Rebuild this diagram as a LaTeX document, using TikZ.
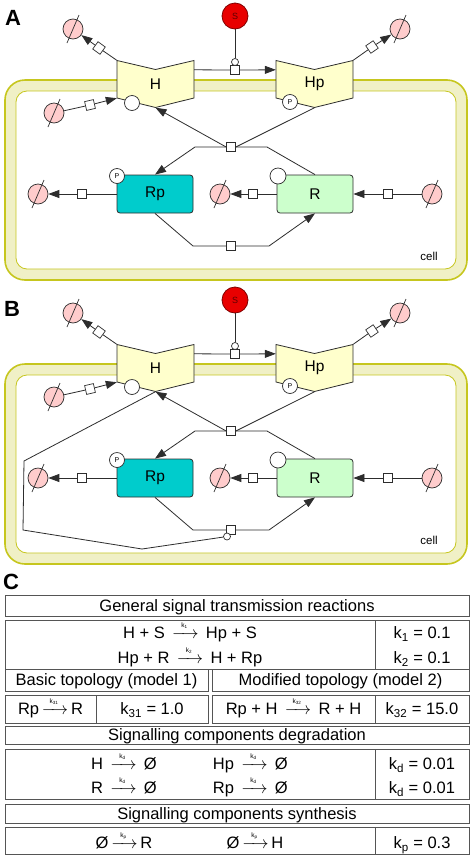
\documentclass[tikz,border=0pt]{standalone}
\usepackage{amsmath}
\usepackage{fontspec}
\setmainfont{Liberation Sans}
\usetikzlibrary{arrows.meta}

\definecolor{netOlive}{RGB}{198,198,30}
\definecolor{netBand}{RGB}{240,240,198}
\definecolor{netCream}{RGB}{255,255,204}
\definecolor{netTeal}{RGB}{0,204,204}
\definecolor{netMint}{RGB}{204,255,204}
\definecolor{netPink}{RGB}{255,204,204}
\definecolor{netRed}{RGB}{232,0,0}
\definecolor{netDark}{RGB}{45,45,45}
\definecolor{tabGray}{RGB}{85,85,85}

\newcommand\tabfont{\fontsize{16.5}{19}\selectfont}
\newcommand\rxn[1]{\,\ensuremath{\xrightarrow{\raisebox{1.5pt}{\makebox[17pt]{\fontsize{6.5}{7}\selectfont k\textsubscript{#1}}}}}\,}

\tikzset{
  cellout/.style={draw=netOlive, line width=1.6pt, fill=netBand, rounded corners=20pt,
    minimum width=462pt, minimum height=200pt},
  cellin/.style={draw=netOlive, line width=0.8pt, fill=white, rounded corners=11pt,
    minimum width=440pt, minimum height=178pt},
  celltag/.style={font=\fontsize{11.5}{12}\selectfont, inner sep=0pt},
  recepshape/.style={draw=netDark, line width=0.8pt, fill=netCream, line join=miter},
  receptor/.style={minimum width=77pt, minimum height=47pt, inner sep=0pt,
    font=\fontsize{15.5}{16}\selectfont},
  species/.style={draw=netDark, line width=0.8pt, rounded corners=3pt, minimum width=76pt,
    minimum height=38pt, inner sep=0pt, font=\fontsize{15.5}{16}\selectfont},
  sitecirc/.style={circle, draw=netDark, line width=0.7pt, fill=white, minimum size=15pt,
    inner sep=0pt, font=\fontsize{7}{7}\selectfont},
  catcirc/.style={circle, draw=netDark, line width=0.7pt, fill=white, minimum size=7pt, inner sep=0pt},
  signal/.style={circle, draw=black!45!netRed, line width=0.8pt, fill=netRed, minimum size=26pt,
    inner sep=0pt, font=\fontsize{9}{9}\selectfont, text=black!60!netRed},
  sink/.style={circle, draw=netDark, line width=0.7pt, fill=netPink, minimum size=20pt, inner sep=0pt},
  sinkslash/.style={draw=netDark, line width=0.7pt},
  procsq/.style={draw=netDark, line width=0.7pt, fill=white, minimum size=9pt, inner sep=0pt},
  link/.style={draw=netDark, line width=0.8pt},
  flow/.style={link, -{Triangle[length=11pt,width=8pt]}},
  panel/.style={font=\fontsize{22}{22}\selectfont\bfseries, inner sep=0pt},
  tabcell/.style={draw=tabGray, line width=0.8pt, inner sep=0pt, font=\tabfont,
    text height=11.8pt, text depth=0pt},
  tabtext/.style={inner sep=0pt, font=\tabfont, text height=11.8pt, text depth=0pt}
}

% receptor: name, x, y, label
\newcommand\receptor[4]{%
  \draw[recepshape] (#2-38.5,#3-23.5) -- (#2,#3-14.5) -- (#2+38.5,#3-23.5)
    -- (#2+38.5,#3+14) -- (#2,#3+23.5) -- (#2-38.5,#3+14) -- cycle;
  \node[receptor] (#1) at (#2,#3) {#4};}

% sink (empty set): name, x, y
\newcommand\sink[3]{%
  \node[sink] (#1) at (#2,#3) {};
  \draw[sinkslash] ([shift={(-6pt,-14pt)}]#1.center) -- ([shift={(6pt,14pt)}]#1.center);}

% one signalling network, #1 = name prefix
\newcommand\signalnet[1]{%
  \node[cellout] (#1cell) at (236,180) {};
  \node[cellin] (#1cellin) at (236,180) {};
  \node[celltag] (#1celltxt) at (429,256) {cell};
  \receptor{#1H}{155.5}{84}{H}
  \receptor{#1Hp}{314.5}{84}{Hp}
  \node[sitecirc] (#1Hsite) at (132,103) {};
  \node[sitecirc] (#1HpP) at (290,102) {P};
  \node[species, fill=netTeal] (#1Rp) at (155,194) {Rp};
  \node[species, fill=netMint] (#1R) at (315,194) {R};
  \node[sitecirc] (#1RpP) at (117,176) {P};
  \node[sitecirc, minimum size=16pt] (#1Rsite) at (278,176) {};
  \node[signal] (#1S) at (235,16) {S};
  % sinks
  \sink{#1sinkHd}{73}{29}
  \sink{#1sinkHpd}{400}{29}
  \sink{#1sinkHs}{54}{113}
  \sink{#1sinkRpd}{38}{194}
  \sink{#1sinkRd}{220}{194}
  \sink{#1sinkRs}{432}{194}
  % process nodes
  \node[procsq, rotate=-36] (#1sqHd) at (99,48) {};
  \node[procsq, rotate=34] (#1sqHpd) at (372,47) {};
  \node[procsq, rotate=13] (#1sqHs) at (90,105) {};
  \node[procsq] (#1sqRpd) at (82,194) {};
  \node[procsq] (#1sqRd) at (253,194) {};
  \node[procsq] (#1sqRs) at (388,194) {};
  \node[procsq] (#1sqS) at (235,70) {};
  \node[procsq] (#1sqHR) at (231,147) {};
  \node[procsq] (#1sqRR) at (231,246) {};
  \node[catcirc] (#1catS) at (235,62) {};
  % degradation and synthesis
  \draw[link] (#1H.north west) -- (#1sqHd);
  \draw[flow] (#1sqHd) -- (#1sinkHd);
  \draw[link] (#1Hp.north east) -- (#1sqHpd);
  \draw[flow] (#1sqHpd) -- (#1sinkHpd);
  \draw[link] (#1sinkHs) -- (#1sqHs);
  \draw[flow] (#1sqHs) -- ([yshift=9.5pt]#1H.south west);
  \draw[link] (#1Rp.west) -- (#1sqRpd);
  \draw[flow] (#1sqRpd) -- (#1sinkRpd);
  \draw[link] (#1R.west) -- (#1sqRd);
  \draw[flow] (#1sqRd) -- (#1sinkRd);
  \draw[link] (#1sinkRs) -- (#1sqRs);
  \draw[flow] (#1sqRs) -- (#1R.east);
  % H + S -> Hp + S
  \draw[link] (#1S) -- (#1catS);
  \draw[link] ([yshift=-9.5pt]#1H.north east) -- (#1sqS.west);
  \draw[flow] (#1sqS.east) -- ([yshift=-9.5pt]#1Hp.north west);
  % Hp + R -> H + Rp
  \draw[link] (#1Hp.south) -- (#1sqHR.east);
  \draw[link] (#1R.north) -- (267,147) -- (#1sqHR.east);
  \draw[flow] (#1sqHR.west) -- (195,147) -- (#1Rp.north);
  \draw[flow] (#1sqHR.west) -- (#1H.south);
  % Rp -> R
  \draw[link] (#1Rp.south) -- (193,246) -- (#1sqRR.west);
  \draw[flow] (#1sqRR.east) -- (269,246) -- (#1R.south);
}

\begin{document}
\begin{tikzpicture}[x=1pt,y=-1pt]
  \useasboundingbox (0,0) rectangle (474,860);
  % panel A
  \node[panel] (labA) at (13,18) {A};
  \signalnet{a}
  % panel B
  \node[panel] (labB) at (12,309) {B};
  \begin{scope}[yshift=-284pt]
    \signalnet{b}
    \node[catcirc] (bcatRR) at (227,252.5) {};
    \draw[link] (bH.south) -- (24,177) -- (23,246) -- (142,265) -- (bcatRR);
  \end{scope}
  % panel C
  \node[panel] (labC) at (11,582) {C};
  \node[tabcell, minimum width=464pt, minimum height=21pt] (gen) at (237,605.5) {General signal transmission reactions};
  \node[tabcell, minimum width=370pt, minimum height=49pt] (genrx) at (190,644.5) {};
  \node[tabcell, minimum width=94pt, minimum height=49pt] (genk) at (422,644.5) {};
  \node[tabtext] (rx1) at (190,633) {H + S \rxn{1} Hp + S};
  \node[tabtext] (rx2) at (190,658) {Hp + R \rxn{2} H + Rp};
  \node[tabtext] (k1) at (422,633) {k\textsubscript{1} = 0.1};
  \node[tabtext] (k2) at (422,658) {k\textsubscript{2} = 0.1};
  \node[tabcell, minimum width=203pt, minimum height=22pt] (basic) at (106.5,680) {Basic topology (model 1)};
  \node[tabcell, minimum width=257pt, minimum height=22pt] (modif) at (340.5,680) {Modified topology (model 2)};
  \node[tabcell, minimum width=91pt, minimum height=28pt] (rx31) at (50.5,709) {Rp\rxn{31}R};
  \node[tabcell, minimum width=112pt, minimum height=28pt] (k31) at (152,709) {k\textsubscript{31} = 1.0};
  \node[tabcell, minimum width=163pt, minimum height=28pt] (rx32) at (293.5,709) {Rp + H \rxn{32} R + H};
  \node[tabcell, minimum width=94pt, minimum height=28pt] (k32) at (422,709) {k\textsubscript{32} = 15.0};
  \node[tabcell, minimum width=464pt, minimum height=18pt] (deg) at (237,735) {Signalling components degradation};
  \node[tabcell, minimum width=370pt, minimum height=50pt] (degrx) at (190,774) {};
  \node[tabcell, minimum width=94pt, minimum height=50pt] (degk) at (422,774) {};
  \node[tabtext, anchor=east] (dH) at (157,764) {H \rxn{d} Ø};
  \node[tabtext, anchor=east] (dHp) at (288,764) {Hp \rxn{d} Ø};
  \node[tabtext, anchor=east] (dR) at (157,788) {R \rxn{d} Ø};
  \node[tabtext, anchor=east] (dRp) at (288,788) {Rp \rxn{d} Ø};
  \node[tabtext] (kd1) at (422,764) {k\textsubscript{d} = 0.01};
  \node[tabtext] (kd2) at (422,788) {k\textsubscript{d} = 0.01};
  \node[tabcell, minimum width=464pt, minimum height=19pt] (syn) at (237,813.5) {Signalling components synthesis};
  \node[tabcell, minimum width=370pt, minimum height=27pt] (synrx) at (190,840.5) {};
  \node[tabcell, minimum width=94pt, minimum height=27pt] (synk) at (422,840.5) {};
  \node[tabtext] (sR) at (124,843) {Ø\rxn{p}R};
  \node[tabtext] (sH) at (255,843) {Ø\rxn{p}H};
  \node[tabtext] (kp) at (422,843) {k\textsubscript{p} = 0.3};
\end{tikzpicture}
\end{document}
